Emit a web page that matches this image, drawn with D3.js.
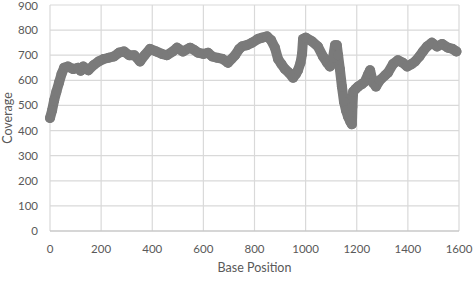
<!DOCTYPE html>
<html>
<head>
<meta charset="utf-8">
<script src="https://cdn.jsdelivr.net/npm/d3@7"></script>
<style>
  body { margin: 0; background: #fff; }
  svg text { font-family: Lato, "Open Sans", sans-serif; fill: #595959; }
</style>
</head>
<body>
<svg id="chart" width="474" height="289"></svg>
<script>
// base positions (x) and coverage (y)
const basePos = [0, 8, 16, 25, 35, 45, 55, 70, 90, 110, 120, 130, 150, 170, 190, 210, 230, 250, 270, 290,
  310, 330, 352, 370, 391, 415, 438, 457, 480, 497, 520, 548, 565, 579, 600, 618, 635, 653, 675, 696,
  710, 724, 740, 751, 770, 790, 814, 830, 849, 865, 880, 892, 905, 919, 935, 951, 962, 970, 980, 986,
  990, 1000, 1025, 1048, 1068, 1084, 1095, 1107, 1115, 1122, 1127, 1134, 1142, 1150, 1158, 1166, 1175, 1181, 1183, 1186,
  1195, 1205, 1220, 1232, 1245, 1252, 1264, 1275, 1290, 1311, 1322, 1342, 1361, 1380, 1397, 1415, 1428, 1445, 1459, 1475,
  1494, 1514, 1534, 1557, 1575, 1590];
const coverage = [450, 480, 520, 555, 590, 625, 650, 655, 645, 650, 638, 655, 640, 660, 675, 685, 690, 695, 710, 715,
  700, 700, 675, 700, 725, 715, 705, 700, 715, 730, 715, 730, 720, 710, 705, 710, 695, 690, 685, 670,
  685, 700, 725, 735, 740, 750, 765, 770, 775, 760, 730, 685, 665, 645, 630, 610, 625, 640, 670, 705,
  765, 770, 755, 735, 695, 670, 655, 690, 740, 740, 700, 645, 575, 515, 480, 455, 435, 425, 495, 555,
  565, 575, 585, 595, 625, 640, 590, 575, 600, 620, 630, 665, 680, 670, 655, 665, 675, 695, 715, 735,
  750, 735, 745, 730, 725, 715];

const xTicks = [0, 200, 400, 600, 800, 1000, 1200, 1400, 1600];
const yTicks = [0, 100, 200, 300, 400, 500, 600, 700, 800, 900];

const data = basePos.map((b, i) => ({ x: b, y: coverage[i] }));

const svg = d3.select('#chart');
const mLeft = 50, mRight = 459, mTop = 5, mBottom = 231;

const x = d3.scaleLinear().domain([0, 1600]).range([mLeft, mRight]);
const y = d3.scaleLinear().domain([0, 900]).range([mBottom, mTop]);

// === Grille ===
svg.append('g')
  .selectAll('line')
  .data(yTicks)
  .enter().append('line')
  .attr('x1', mLeft).attr('x2', mRight)
  .attr('y1', d => y(d)).attr('y2', d => y(d))
  .attr('stroke', '#d9d9d9')
  .attr('stroke-width', 1.2);

svg.append('g')
  .selectAll('line')
  .data(xTicks)
  .enter().append('line')
  .attr('x1', d => x(d)).attr('x2', d => x(d))
  .attr('y1', mTop).attr('y2', mBottom)
  .attr('stroke', '#d9d9d9')
  .attr('stroke-width', 1.2);

// axe horizontal
svg.append('line')
  .attr('x1', mLeft).attr('x2', mRight)
  .attr('y1', mBottom).attr('y2', mBottom)
  .attr('stroke', '#bfbfbf')
  .attr('stroke-width', 1.2);

// === Labels ===
svg.append('g')
  .selectAll('text')
  .data(yTicks)
  .enter().append('text')
  .attr('x', 38)
  .attr('y', d => y(d) + (d === 900 ? 1 : 0))
  .attr('dy', '0.35em')
  .attr('text-anchor', 'end')
  .style('font-size', '11.5px')
  .text(d => d);

svg.append('g')
  .selectAll('text')
  .data(xTicks)
  .enter().append('text')
  .attr('x', d => x(d))
  .attr('y', 253)
  .attr('text-anchor', 'middle')
  .style('font-size', '11.5px')
  .text(d => d);

svg.append('text')
  .attr('x', (mLeft + mRight) / 2)
  .attr('y', 272)
  .attr('text-anchor', 'middle')
  .style('font-size', '12.5px')
  .text('Base Position');

svg.append('text')
  .attr('transform', `translate(12,${(mTop + mBottom) / 2}) rotate(-90)`)
  .attr('text-anchor', 'middle')
  .style('font-size', '12.5px')
  .text('Coverage');

// === Série ===
const line = d3.line().x(d => x(d.x)).y(d => y(d.y));
svg.append('path')
  .datum(data)
  .attr('d', line)
  .attr('fill', 'none')
  .attr('stroke', '#7a7a7a')
  .attr('stroke-width', 10)
  .attr('stroke-linejoin', 'round')
  .attr('stroke-linecap', 'round');

svg.append('g')
  .selectAll('circle')
  .data(data)
  .enter().append('circle')
  .attr('cx', d => x(d.x))
  .attr('cy', d => y(d.y))
  .attr('r', 5)
  .attr('fill', '#7a7a7a');
</script>
</body>
</html>
